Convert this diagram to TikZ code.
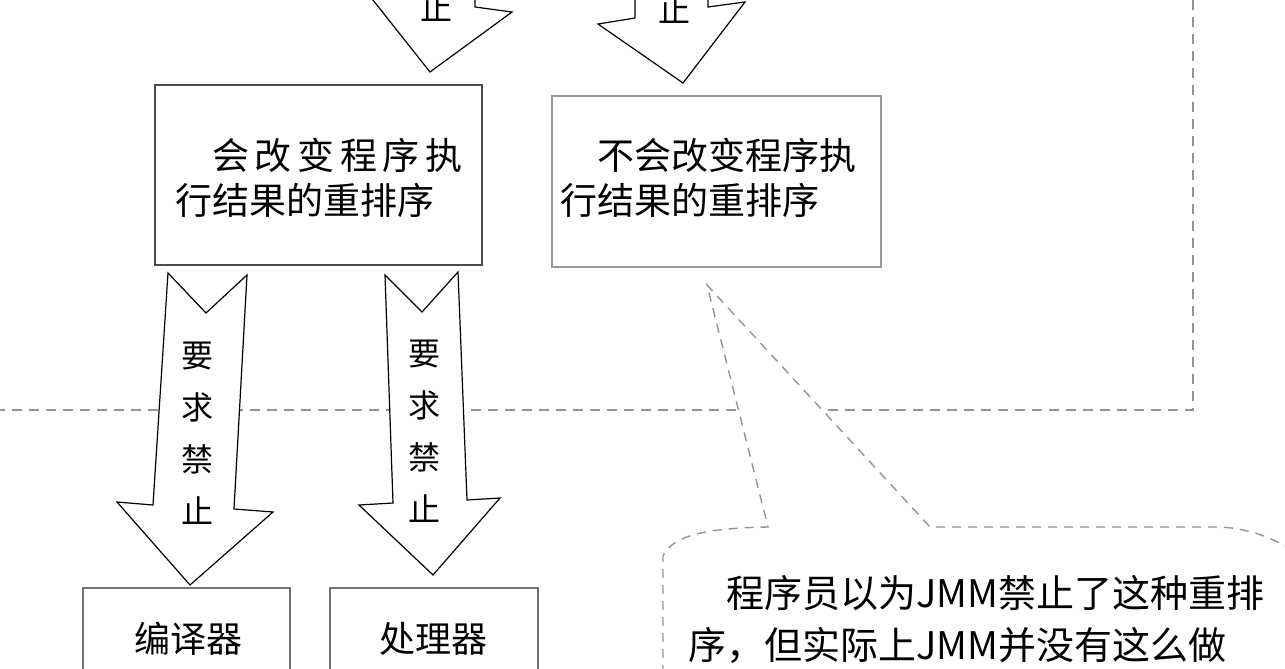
\documentclass[tikz,border=0pt]{standalone}
\usepackage{fontspec}
\newfontfamily\cjk{Noto Sans CJK SC}
\begin{document}
\begin{tikzpicture}[x=1pt,y=-1pt,
  box/.style={draw=#1, line width=1.5pt, fill=white, inner sep=0pt},
  dashline/.style={draw=black!42, line width=1.8pt, dash pattern=on 10pt off 7pt},
  calloutline/.style={draw=black!42, line width=1.4pt, dash pattern=on 9pt off 7pt},
  blockarrow/.style={draw=black, line width=1.2pt, fill=white, line join=miter},
  lbl/.style={font=\cjk\fontsize{37}{45}\selectfont, align=left, inner sep=0pt},
  clbl/.style={font=\cjk\fontsize{38}{52}\selectfont, align=left, inner sep=0pt},
  blbl/.style={font=\cjk\fontsize{36}{40}\selectfont, inner sep=0pt},
  vlbl/.style={font=\cjk\fontsize{32}{52}\selectfont, align=center, inner sep=0pt},
]
\useasboundingbox (0,0) rectangle (1285,669);
\clip (0,0) rectangle (1285,669);

% dashed frame
\coordinate (fl) at (-5,410);
\coordinate (fc) at (1193,410);
\coordinate (ft) at (1193,-5);
\draw[dashline] (fl) -- (fc) -- (ft);

% callout
\coordinate (c0) at (663,690);
\coordinate (c1) at (663,556);
\coordinate (c2) at (768,527);
\coordinate (ap) at (707,285);
\coordinate (c3) at (930,527);
\coordinate (c4) at (1215,527);
\coordinate (c5) at (1295,552);
\fill[white] (c0) -- (c1) .. controls (672,536) and (705,528) .. (c2) -- (ap) -- (c3) -- (c4) .. controls (1245,527) and (1272,537) .. (c5) -- (1295,690) -- cycle;
\draw[calloutline] (c0) -- (c1) .. controls (672,536) and (705,528) .. (c2) -- (ap) -- (c3) -- (c4) .. controls (1245,527) and (1272,537) .. (c5);
\node[clbl, anchor=west] (ct) at (688,619) {\hspace{1em}程序员以为JMM禁止了这种重排\\序，但实际上JMM并没有这么做};

% top arrows (cropped)
\draw[blockarrow] (400,-100) -- (400,-8) -- (365,-10) -- (430,72) -- (512,12) -- (475,7) -- (475,-100);
\node[vlbl] (ta1) at (436,8) {止};
\draw[blockarrow] (635,-100) -- (635,18) -- (598,24) -- (683,83) -- (745,2) -- (708,7) -- (708,-100);
\node[vlbl] (ta2) at (674,10) {止};

% boxes
\node[box=black!70, minimum width=327pt, minimum height=180pt] (b1) at (318.5,175) {};
\node[lbl, anchor=west] (t1) at (175,178) {\hspace{1em}\makebox[250pt][s]{会\hfil{}改\hfil{}变\hfil{}程\hfil{}序\hfil{}执}\\行结果的重排序};
\node[box=black!40, minimum width=329pt, minimum height=171pt] (b2) at (716.5,181.5) {};
\node[lbl, anchor=west] (t2) at (560,178) {\hspace{1em}不会改变程序执\\行结果的重排序};

\node[box=black!55, minimum width=207pt, minimum height=110pt] (b3) at (186.5,643) {};
\node[blbl] (t3) at (188,639) {编译器};
\node[box=black!55, minimum width=208pt, minimum height=110pt] (b4) at (434,643) {};
\node[blbl] (t4) at (433,639) {处理器};

% down arrows
\draw[blockarrow] (168,273) -- (206,313) -- (247,275) -- (234,509) -- (273,512) -- (190,585) -- (117,502) -- (153,505) -- cycle;
\node[vlbl] (a1) at (197,433) {要\\求\\禁\\止};
\draw[blockarrow] (385,275) -- (422,312) -- (458,272) -- (467,500) -- (500,498) -- (433,575) -- (359,505) -- (393,503) -- cycle;
\node[vlbl] (a2) at (424,431) {要\\求\\禁\\止};
\end{tikzpicture}
\end{document}
